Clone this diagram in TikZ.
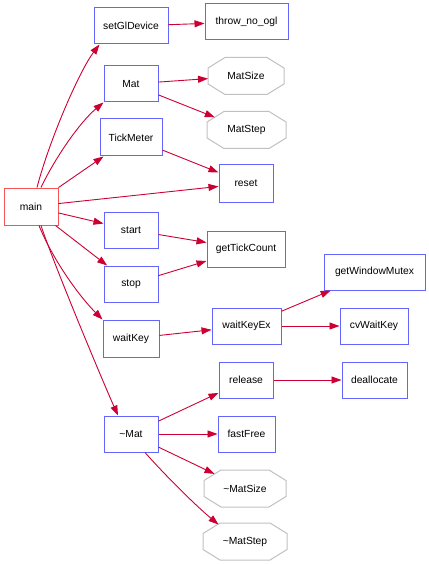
\documentclass[tikz,border=0pt]{standalone}
\usepackage{fontspec}
\setmainfont{Liberation Sans}
\usetikzlibrary{arrows.meta}
\definecolor{edgecol}{RGB}{204,0,51}
\definecolor{boxblue}{RGB}{100,100,255}
\definecolor{boxred}{RGB}{245,85,85}
\definecolor{octgrey}{RGB}{192,192,192}
\newcommand\octnode[4]{%
  \node[octtext] (#1) at (#2) {#4};
  \draw[octline] ([shift={({-#3+17},-18.5)}]#1.center) -- ([shift={({#3-17},-18.5)}]#1.center)
    -- ([shift={(#3,-8)}]#1.center) -- ([shift={(#3,8)}]#1.center)
    -- ([shift={({#3-17},18.5)}]#1.center) -- ([shift={({-#3+17},18.5)}]#1.center)
    -- ([shift={(-#3,8)}]#1.center) -- ([shift={(-#3,-8)}]#1.center) -- cycle;}
\begin{document}
\begin{tikzpicture}[x=1pt,y=-1pt,
  font=\fontsize{10.3}{12}\selectfont,
  box/.style={draw=boxblue, line width=1pt, fill=white, minimum height=36pt,
    minimum width=#1, inner sep=0pt, anchor=center},
  rootbox/.style={box=#1, draw=boxred},
  octtext/.style={inner sep=0pt, anchor=center},
  octline/.style={draw=octgrey, line width=1pt},
  edge/.style={draw=edgecol, line width=0.9pt, -{Triangle[length=10pt,width=7pt]}}]
\useasboundingbox (0,0) rectangle (428,564);
% nodes
\node[box=74pt] (setGlDevice) at (131,26) {setGlDevice};
\node[box=83pt] (throw) at (246.5,22) {throw\_no\_ogl};
\node[box=54pt] (Mat) at (131,84) {Mat};
\octnode{MatSize}{246,76}{38}{MatSize}
\octnode{MatStep}{246.5,130}{39.5}{MatStep}
\node[box=62pt, minimum height=37pt] (TickMeter) at (131,137.5) {TickMeter};
\node[box=54pt, minimum height=37pt] (reset) at (246,183.5) {reset};
\node[rootbox=54pt, minimum height=37pt] (main) at (31,206.5) {main};
\node[box=54pt] (start) at (131,230) {start};
\node[box=54pt] (stop) at (131,284) {stop};
\node[box=78pt] (getTickCount) at (246,249) {getTickCount};
\node[box=56pt, minimum height=37pt] (waitKey) at (131,338.5) {waitKey};
\node[box=69pt] (waitKeyEx) at (246.5,326) {waitKeyEx};
\node[box=101pt] (getWindowMutex) at (374.5,272) {getWindowMutex};
\node[box=68pt] (cvWaitKey) at (374,326) {cvWaitKey};
\node[box=54pt] (release) at (246,380) {release};
\node[box=65pt] (deallocate) at (374.5,380) {deallocate};
\node[box=57pt] (fastFree) at (246.5,434) {fastFree};
\node[box=54pt] (Mat2) at (131,434) {\textasciitilde Mat};
\octnode{MatSize2}{245,488.5}{41}{\textasciitilde MatSize}
\octnode{MatStep2}{245,541.5}{42}{\textasciitilde MatStep}
% octagon entry points
\coordinate (MatSizeIn) at (208,78.6);
\coordinate (MatStepIn) at (214.8,117.3);
\coordinate (MatSize2In) at (214.5,473.9);
\coordinate (MatStep2In) at (218.5,524.5);
% edges
\draw[edge] ([xshift=6pt]main.north) .. controls (50,138) and (80,70) .. ([xshift=6pt]setGlDevice.south west);
\draw[edge] ([xshift=10pt]main.north) .. controls (55,158) and (80,122) .. (Mat.south west);
\draw[edge] (main) -- (TickMeter);
\draw[edge] (main) -- (reset);
\draw[edge] (main) -- (start);
\draw[edge] (main) -- (stop);
\draw[edge] ([xshift=8pt]main.south) .. controls (52,258) and (78,295) .. (waitKey.north west);
\draw[edge] ([xshift=10pt]main.south) .. controls (53,262) and (100,375) .. ([xshift=-13pt]Mat2.north);
\draw[edge] (setGlDevice) -- (throw);
\draw[edge] (Mat) -- (MatSizeIn);
\draw[edge] (Mat) -- (MatStepIn);
\draw[edge] (TickMeter) -- (reset);
\draw[edge] (start) -- (getTickCount);
\draw[edge] (stop) -- (getTickCount);
\draw[edge] (waitKey) -- (waitKeyEx);
\draw[edge] (waitKeyEx) -- (getWindowMutex);
\draw[edge] (waitKeyEx) -- (cvWaitKey);
\draw[edge] (release) -- (deallocate);
\draw[edge] (Mat2) -- (release);
\draw[edge] (Mat2) -- (fastFree);
\draw[edge] (Mat2) -- (MatSize2In);
\draw[edge] ([xshift=14pt]Mat2.south) .. controls (165,475) and (195,505) .. (MatStep2In);
\end{tikzpicture}
\end{document}
